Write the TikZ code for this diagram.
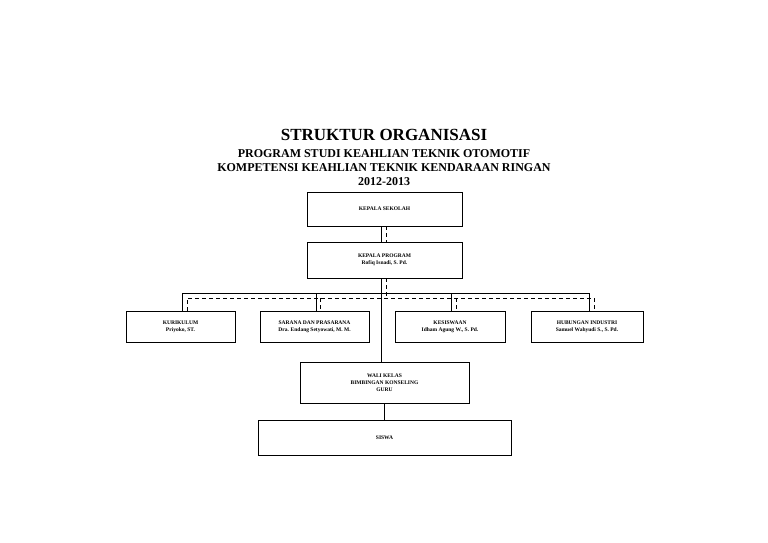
\documentclass[tikz,border=0pt]{standalone}
\usepackage{fontspec}
\setmainfont{Liberation Serif}
\begin{document}
\begin{tikzpicture}[x=1pt,y=-1pt,
 box/.style={draw,line width=0.9pt,inner sep=0pt,align=center,font=\bfseries\fontsize{5.5}{7}\selectfont},
 ln/.style={line width=0.9pt},
 dl/.style={line width=0.9pt,dash pattern=on 4pt off 3pt}]
\useasboundingbox (0,0) rectangle (768,543);
\node[font=\bfseries\fontsize{17}{19}\selectfont] (t1) at (384,135) {STRUKTUR ORGANISASI};
\node[font=\bfseries\fontsize{12}{14}\selectfont,align=center] (t2) at (384,168) {PROGRAM STUDI KEAHLIAN TEKNIK OTOMOTIF\\KOMPETENSI KEAHLIAN TEKNIK KENDARAAN RINGAN\\2012-2013};
\node[box,minimum width=155pt,minimum height=34pt] (ks) at (384.5,209) {KEPALA SEKOLAH};
\node[box,minimum width=155pt,minimum height=36pt] (kp) at (384.5,260) {KEPALA PROGRAM\\Rofiq Isnadi, S. Pd.};
\node[box,minimum width=109pt,minimum height=31pt] (kur) at (180.5,326.5) {KURIKULUM\\Priyoko, ST.};
\node[box,minimum width=109pt,minimum height=31pt] (sar) at (314.5,326.5) {SARANA DAN PRASARANA\\Dra. Endang Setyowati, M. M.};
\node[box,minimum width=110pt,minimum height=31pt] (kes) at (450,326.5) {KESISWAAN\\Idham Agung W., S. Pd.};
\node[box,minimum width=112pt,minimum height=31pt] (hub) at (587,326.5) {HUBUNGAN INDUSTRI\\Samuel Wahyudi S., S. Pd.};
\node[box,minimum width=169pt,minimum height=41pt] (wali) at (384.5,382.5) {WALI KELAS\\BIMBINGAN KONSELING\\GURU};
\node[box,minimum width=253pt,minimum height=35pt] (sis) at (384.5,437.5) {SISWA};
% solid
\draw[ln] (ks.south -| 381,0) -- (kp.north -| 381,0);
\draw[ln] (kp.south -| 381,0) -- (wali.north -| 381,0);
\draw[ln] (kur.north -| 182,0) -- (182,293) -- (589,293) -- (hub.north -| 589,0);
\draw[ln] (316,293) -- (sar.north -| 316,0);
\draw[ln] (451,293) -- (kes.north -| 451,0);
\draw[ln] (wali.south -| 384,0) -- (sis.north -| 384,0);
% dashed
\draw[dl] (ks.south -| 386,0) -- (kp.north -| 386,0);
\draw[dl] (kp.south -| 386,0) -- (386,298);
\draw[dl] (kur.north -| 187,0) -- (187,298) -- (594,298) -- (hub.north -| 594,0);
\draw[dl] (320,298) -- (sar.north -| 320,0);
\draw[dl] (456,298) -- (kes.north -| 456,0);
\end{tikzpicture}
\end{document}
